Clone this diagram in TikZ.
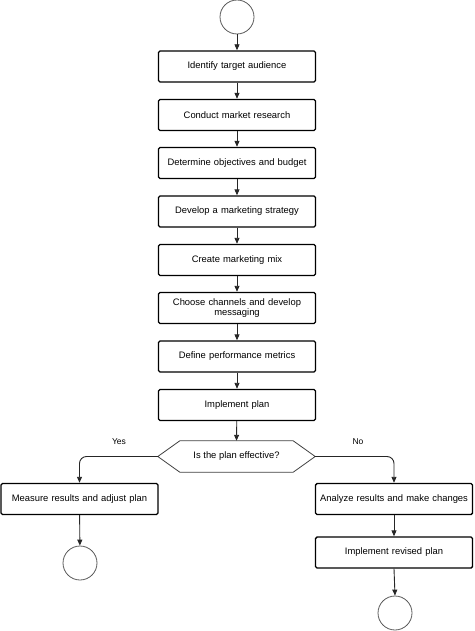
\documentclass[tikz,border=0pt]{standalone}
\usepackage{fontspec}
\setmainfont{Liberation Sans}
\usetikzlibrary{arrows.meta}
\begin{document}
\begin{tikzpicture}[x=1pt,y=-1pt,
  every node/.style={font=\fontsize{9.4}{10.5}\selectfont},
  stepbox/.style={draw=black,line width=1.4pt,rounded corners=1.5pt,minimum width=157pt,minimum height=31pt,inner sep=1pt,align=center,text width=150pt},
  endcirc/.style={circle,draw=black!65,line width=0.8pt,minimum size=34pt,inner sep=0pt},
  conn/.style={draw=black!85,line width=0.9pt,-{Triangle[length=6pt,width=5pt]}},
  lbl/.style={font=\fontsize{8.5}{10}\selectfont}]
\useasboundingbox (0,0) rectangle (474,631);
\node[endcirc] (start) at (237,17) {};
\node[stepbox] (b1) at (237,66.5) {Identify target audience};
\node[stepbox] (b2) at (237,115) {Conduct market research};
\node[stepbox] (b3) at (237,163) {Determine objectives and budget};
\node[stepbox] (b4) at (237,211.5) {Develop a marketing strategy};
\node[stepbox] (b5) at (237,260) {Create marketing mix};
\node[stepbox] (b6) at (237,308) {Choose channels and develop\\messaging};
\node[stepbox] (b7) at (237,356.5) {Define performance metrics};
\node[stepbox] (b8) at (237,405) {Implement plan};
\node[minimum width=157pt,minimum height=31pt,inner sep=0pt] (dec) at (236.5,456.5) {Is the plan effective?};
\draw[draw=black!75,line width=0.8pt] (dec.west) -- ([xshift=22pt]dec.north west) -- ([xshift=-22pt]dec.north east) -- (dec.east) -- ([xshift=-22pt]dec.south east) -- ([xshift=22pt]dec.south west) -- cycle;
\node[stepbox] (m1) at (79.5,499) {Measure results and adjust plan};
\node[stepbox] (a1) at (394,499) {Analyze results and make changes};
\node[stepbox] (r1) at (394,552.5) {Implement revised plan};
\node[endcirc] (endl) at (80,563) {};
\node[endcirc] (endr) at (395,613) {};
\node[lbl] (yes) at (119,442) {Yes};
\node[lbl] (no) at (358,442) {No};
\draw[conn] (start) -- (b1);
\draw[conn] (b1) -- (b2);
\draw[conn] (b2) -- (b3);
\draw[conn] (b3) -- (b4);
\draw[conn] (b4) -- (b5);
\draw[conn] (b5) -- (b6);
\draw[conn] (b6) -- (b7);
\draw[conn] (b7) -- (b8);
\draw[conn] (b8) -- (dec.north);
\draw[conn,rounded corners=7pt] (dec.west) -| (m1.north);
\draw[conn,rounded corners=7pt] (dec.east) -| (a1.north);
\draw[conn] (m1) -- (endl);
\draw[conn] (a1) -- (r1);
\draw[conn] (r1.south) -- (endr.north);
\end{tikzpicture}
\end{document}
